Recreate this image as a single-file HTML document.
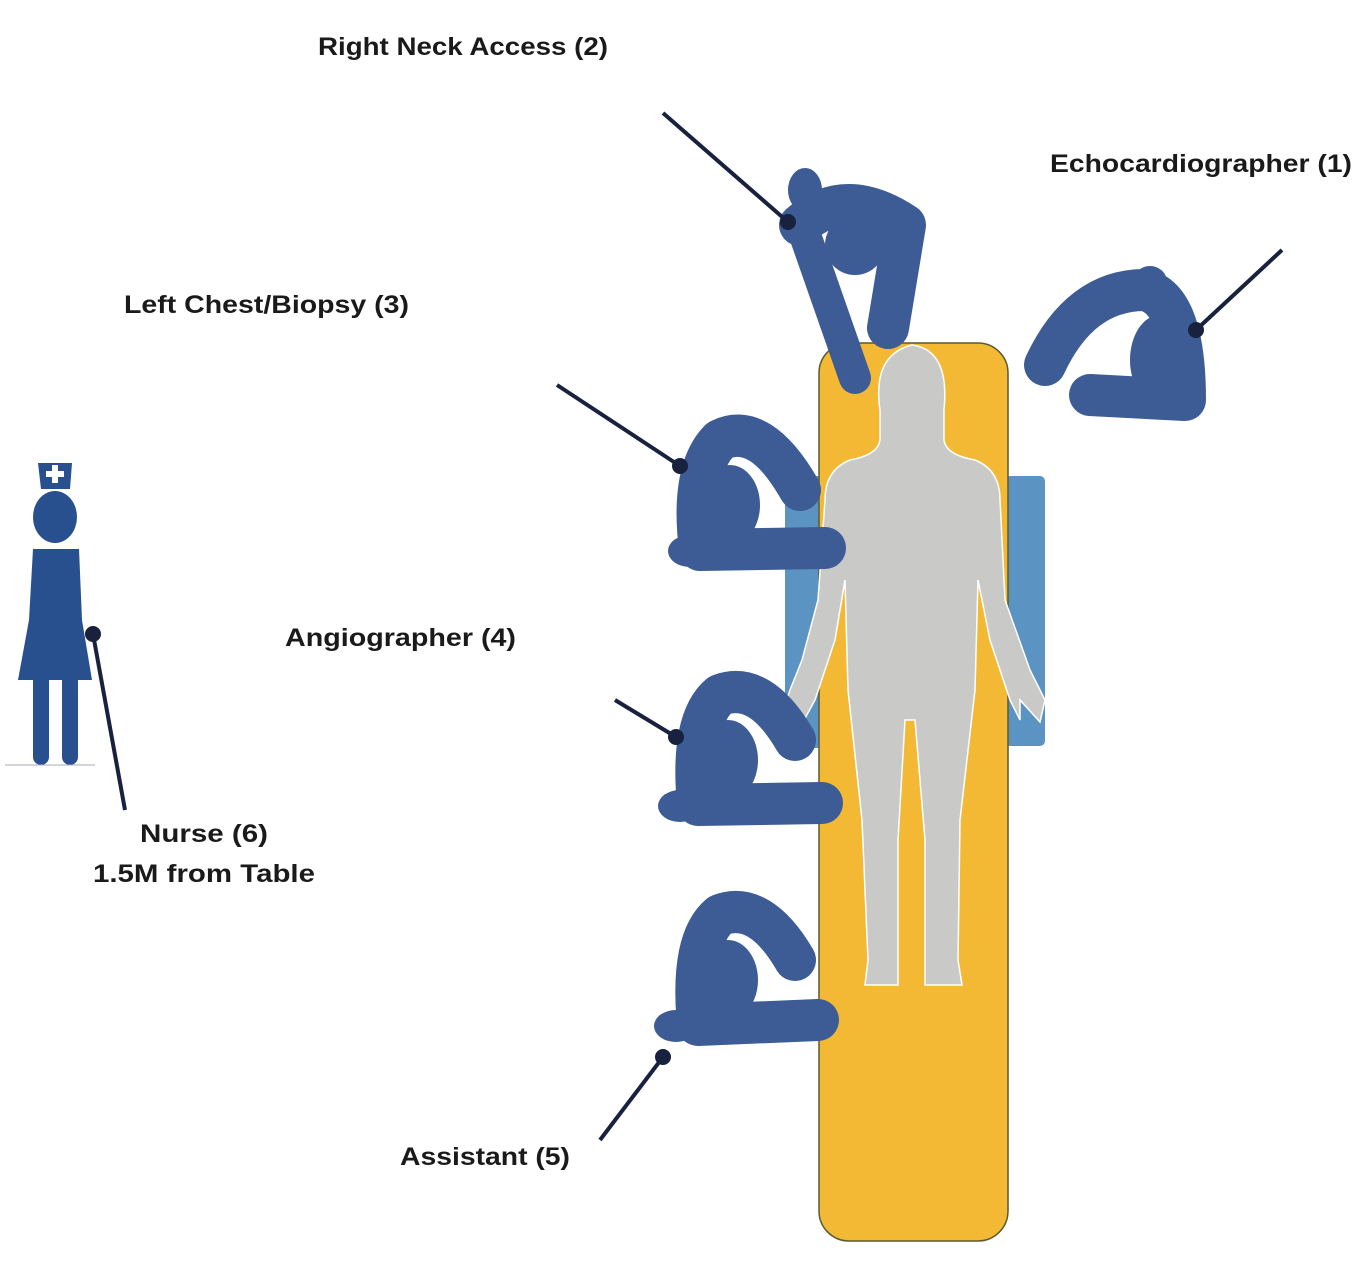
<!DOCTYPE html>
<html><head><style>html,body{margin:0;padding:0;background:#fff}svg{display:block}</style></head><body>
<svg width="1370" height="1274" viewBox="0 0 1370 1274" xmlns="http://www.w3.org/2000/svg">
<g font-family="Liberation Sans, sans-serif" font-weight="bold" font-size="25" fill="#1a1a1a">
<text x="318" y="55" textLength="290" lengthAdjust="spacingAndGlyphs">Right Neck Access (2)</text>
<text x="1050" y="172" textLength="302" lengthAdjust="spacingAndGlyphs">Echocardiographer (1)</text>
<text x="124" y="313" textLength="285" lengthAdjust="spacingAndGlyphs">Left Chest/Biopsy (3)</text>
<text x="285" y="646" textLength="231" lengthAdjust="spacingAndGlyphs">Angiographer (4)</text>
<text x="140" y="842" textLength="128" lengthAdjust="spacingAndGlyphs">Nurse (6)</text>
<text x="93" y="882" textLength="222" lengthAdjust="spacingAndGlyphs">1.5M from Table</text>
<text x="400" y="1165" textLength="170" lengthAdjust="spacingAndGlyphs">Assistant (5)</text>
</g>
<!-- arm boards -->
<rect x="785" y="476" width="40" height="272" rx="5" fill="#5b93c2"/>
<rect x="1005" y="476" width="40" height="270" rx="5" fill="#5b93c2"/>
<!-- table -->
<rect x="819" y="343" width="189" height="898" rx="30" fill="#f3b935" stroke="#5a5a30" stroke-width="1.5"/>
<!-- body -->
<g fill="#c9c9c7" stroke="#fff" stroke-width="1.5">
<path d="M880,440 L880,410 Q872,355 912,345 Q950,350 944,410 L944,440 Q946,455 975,460 Q1000,470 1000,500 L1005,600 L1030,670 L1045,700 L1040,722 L1020,700 L1020,720 L1010,700 L990,640 L978,580 L975,690 L960,820 L958,960 L962,985 L925,985 L925,840 L915,720 L905,720 L898,840 L898,985 L865,985 L868,960 L862,820 L848,690 L845,580 L835,640 L815,700 L803,722 L785,705 L790,690 L802,660 L818,600 L825,500 Q825,470 850,460 Q878,455 880,440 Z"/>
</g>
<!-- surgeons -->
<g fill="none" stroke="#3d5b95" stroke-linecap="round" stroke-linejoin="round">
<!-- 2 top -->
<path d="M800,225 Q845,185 905,225 L888,328" stroke-width="42"/>
<path d="M805,235 L855,378" stroke-width="32"/>
<!-- 1 echo -->
<path d="M1045,365 Q1080,290 1145,290 Q1185,300 1185,400 L1090,395" stroke-width="42"/>
<!-- 3 -->
<path d="M800,490 Q760,420 720,440 Q690,470 700,550 L825,548" stroke-width="42"/>
<!-- 4 -->
<path d="M795,740 Q760,680 720,695 Q690,720 698,805 L822,803" stroke-width="42"/>
<!-- 5 -->
<path d="M795,960 Q760,900 720,915 Q690,940 698,1025 L818,1020" stroke-width="42"/>
</g>
<g fill="#3d5b95">
<ellipse cx="805" cy="190" rx="17" ry="22"/><ellipse cx="855" cy="245" rx="30" ry="30"/>
<ellipse cx="1150" cy="282" rx="17" ry="16"/><ellipse cx="1160" cy="360" rx="30" ry="45"/>
<ellipse cx="690" cy="551" rx="22" ry="16"/><ellipse cx="730" cy="505" rx="30" ry="40"/>
<ellipse cx="680" cy="806" rx="22" ry="16"/><ellipse cx="728" cy="760" rx="30" ry="40"/>
<ellipse cx="676" cy="1026" rx="22" ry="16"/><ellipse cx="728" cy="980" rx="30" ry="40"/>
</g>
<!-- nurse -->
<g fill="#28508f">
<path d="M38,463 L72,463 L70,489 L41,489 Z"/>
<ellipse cx="55" cy="517" rx="22" ry="26"/>
<path d="M33,549 L79,549 L82,620 L92,680 L18,680 L29,620 Z"/>
<rect x="33" y="670" width="16" height="95" rx="8"/>
<rect x="62" y="670" width="16" height="95" rx="8"/>
</g>
<path d="M52,468 h6 v6 h6 v6 h-6 v6 h-6 v-6 h-6 v-6 h6z" fill="#fff" transform="translate(0,-3) scale(1)"/>
<line x1="5" y1="765" x2="95" y2="765" stroke="#aab" stroke-width="1"/>
<!-- leader lines -->
<g stroke="#18213d" stroke-width="4" fill="#18213d">
<line x1="663" y1="113" x2="788" y2="222"/><circle cx="788" cy="222" r="6"/>
<line x1="1282" y1="250" x2="1196" y2="330"/><circle cx="1196" cy="330" r="6"/>
<line x1="557" y1="385" x2="680" y2="466"/><circle cx="680" cy="466" r="6"/>
<line x1="615" y1="700" x2="676" y2="737"/><circle cx="676" cy="737" r="6"/>
<line x1="600" y1="1140" x2="663" y2="1057"/><circle cx="663" cy="1057" r="6"/>
<line x1="93" y1="634" x2="125" y2="810"/><circle cx="93" cy="634" r="6"/>
</g>
</svg>
</body></html>
